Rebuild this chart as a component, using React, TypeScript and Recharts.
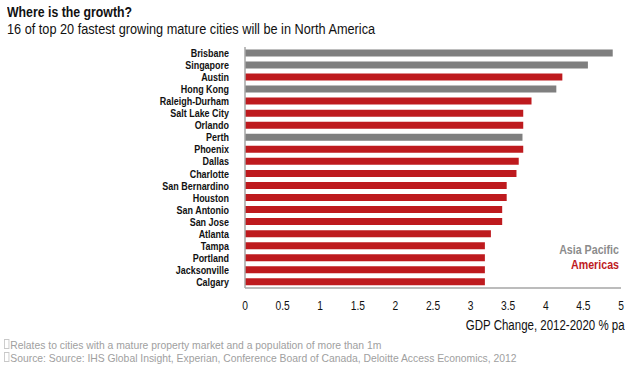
import { BarChart, Bar, XAxis, YAxis, Cell } from "recharts";

const cities = [
  "Brisbane",
  "Singapore",
  "Austin",
  "Hong Kong",
  "Raleigh-Durham",
  "Salt Lake City",
  "Orlando",
  "Perth",
  "Phoenix",
  "Dallas",
  "Charlotte",
  "San Bernardino",
  "Houston",
  "San Antonio",
  "San Jose",
  "Atlanta",
  "Tampa",
  "Portland",
  "Jacksonville",
  "Calgary",
];

const growth = [
  4.89, 4.56, 4.22, 4.14, 3.81, 3.7, 3.7, 3.69, 3.7, 3.64, 3.61, 3.48, 3.48,
  3.42, 3.42, 3.27, 3.19, 3.19, 3.19, 3.19,
];

const regions = [
  "Asia Pacific",
  "Asia Pacific",
  "Americas",
  "Asia Pacific",
  "Americas",
  "Americas",
  "Americas",
  "Asia Pacific",
  "Americas",
  "Americas",
  "Americas",
  "Americas",
  "Americas",
  "Americas",
  "Americas",
  "Americas",
  "Americas",
  "Americas",
  "Americas",
  "Americas",
];

const xTicks = [0, 0.5, 1, 1.5, 2, 2.5, 3, 3.5, 4, 4.5, 5];

const regionColors: Record<string, string> = {
  "Asia Pacific": "#7f7f7f",
  Americas: "#be1a1e",
};

const FONT = '"Liberation Sans", Arial, sans-serif';
const SQUEEZE = 0.82;

const data = cities.map((city, i) => ({ city, value: growth[i], region: regions[i] }));

// no narrow font available, so squeeze the text horizontally
const CityTick = (props: any) => {
  const { x, y, payload } = props;
  return (
    <g transform={`translate(${x},${y}) scale(0.78,1)`}>
      <text x={0} y={0} dy={4} textAnchor="end" fontSize={11.5} fontWeight={700} fill="#111" fontFamily={FONT}>
        {payload.value}
      </text>
    </g>
  );
};

const ValueTick = (props: any) => {
  const { x, y, payload } = props;
  return (
    <g transform={`translate(${x},${y}) scale(${SQUEEZE},1)`}>
      <text x={0} y={0} dy={10} textAnchor="middle" fontSize={12.5} fill="#111" fontFamily={FONT}>
        {payload.value}
      </text>
    </g>
  );
};

const narrow = (origin: string, k = SQUEEZE) => ({
  transform: `scaleX(${k})`,
  transformOrigin: origin,
  whiteSpace: "nowrap" as const,
});

const Box = () => (
  <span
    style={{
      display: "inline-block",
      width: 4,
      height: 8,
      border: "1px solid #c8c8c8",
      marginRight: 1,
    }}
  />
);

export default function App() {
  return (
    <div
      style={{
        position: "absolute",
        left: 0,
        top: 0,
        width: 639,
        height: 370,
        background: "#fff",
        fontFamily: FONT,
        overflow: "hidden",
      }}
    >
      <div style={{ position: "absolute", left: 7, top: 3, fontSize: 15, fontWeight: 700, color: "#111", ...narrow("left") }}>
        Where is the growth?
      </div>
      <div style={{ position: "absolute", left: 7, top: 20, fontSize: 15.5, color: "#111", ...narrow("left") }}>
        16 of top 20 fastest growing mature cities will be in North America
      </div>

      <BarChart
        width={639}
        height={370}
        data={data}
        layout="vertical"
        margin={{ top: 47, right: 18, left: 0, bottom: 0 }}
        barCategoryGap="20%"
      >
        <XAxis
          type="number"
          domain={[0, 5]}
          ticks={xTicks}
          interval={0}
          tickLine={false}
          axisLine={{ stroke: "#a6a6a6", strokeWidth: 1.5 }}
          tick={<ValueTick />}
          tickMargin={6}
          height={82}
        />
        <YAxis
          type="category"
          dataKey="city"
          width={245}
          tickLine={false}
          axisLine={{ stroke: "#a6a6a6", strokeWidth: 1.5 }}
          tick={<CityTick />}
          tickMargin={10}
          interval={0}
        />
        <Bar dataKey="value" isAnimationActive={false}>
          {data.map((d) => (
            <Cell key={d.city} fill={regionColors[d.region]} />
          ))}
        </Bar>
      </BarChart>

      <div
        style={{
          position: "absolute",
          right: 20,
          top: 242,
          textAlign: "right",
          fontSize: 13,
          fontWeight: 700,
          lineHeight: "15px",
          ...narrow("right"),
        }}
      >
        <div style={{ color: "#8c8c8c" }}>Asia Pacific</div>
        <div style={{ color: "#be1a1e" }}>Americas</div>
      </div>

      <div style={{ position: "absolute", right: 14, top: 317, fontSize: 14, color: "#111", ...narrow("right") }}>
        GDP Change, 2012-2020 % pa
      </div>

      <div
        style={{
          position: "absolute",
          left: 4,
          top: 339,
          fontSize: 11.5,
          color: "#a0a0a0",
          lineHeight: "13px",
          ...narrow("left", 0.9),
        }}
      >
        <div>
          <Box />
          Relates to cities with a mature property market and a population of more than 1m
        </div>
        <div>
          <Box />
          Source: Source: IHS Global Insight, Experian, Conference Board of Canada, Deloitte Access Economics, 2012
        </div>
      </div>
    </div>
  );
}
